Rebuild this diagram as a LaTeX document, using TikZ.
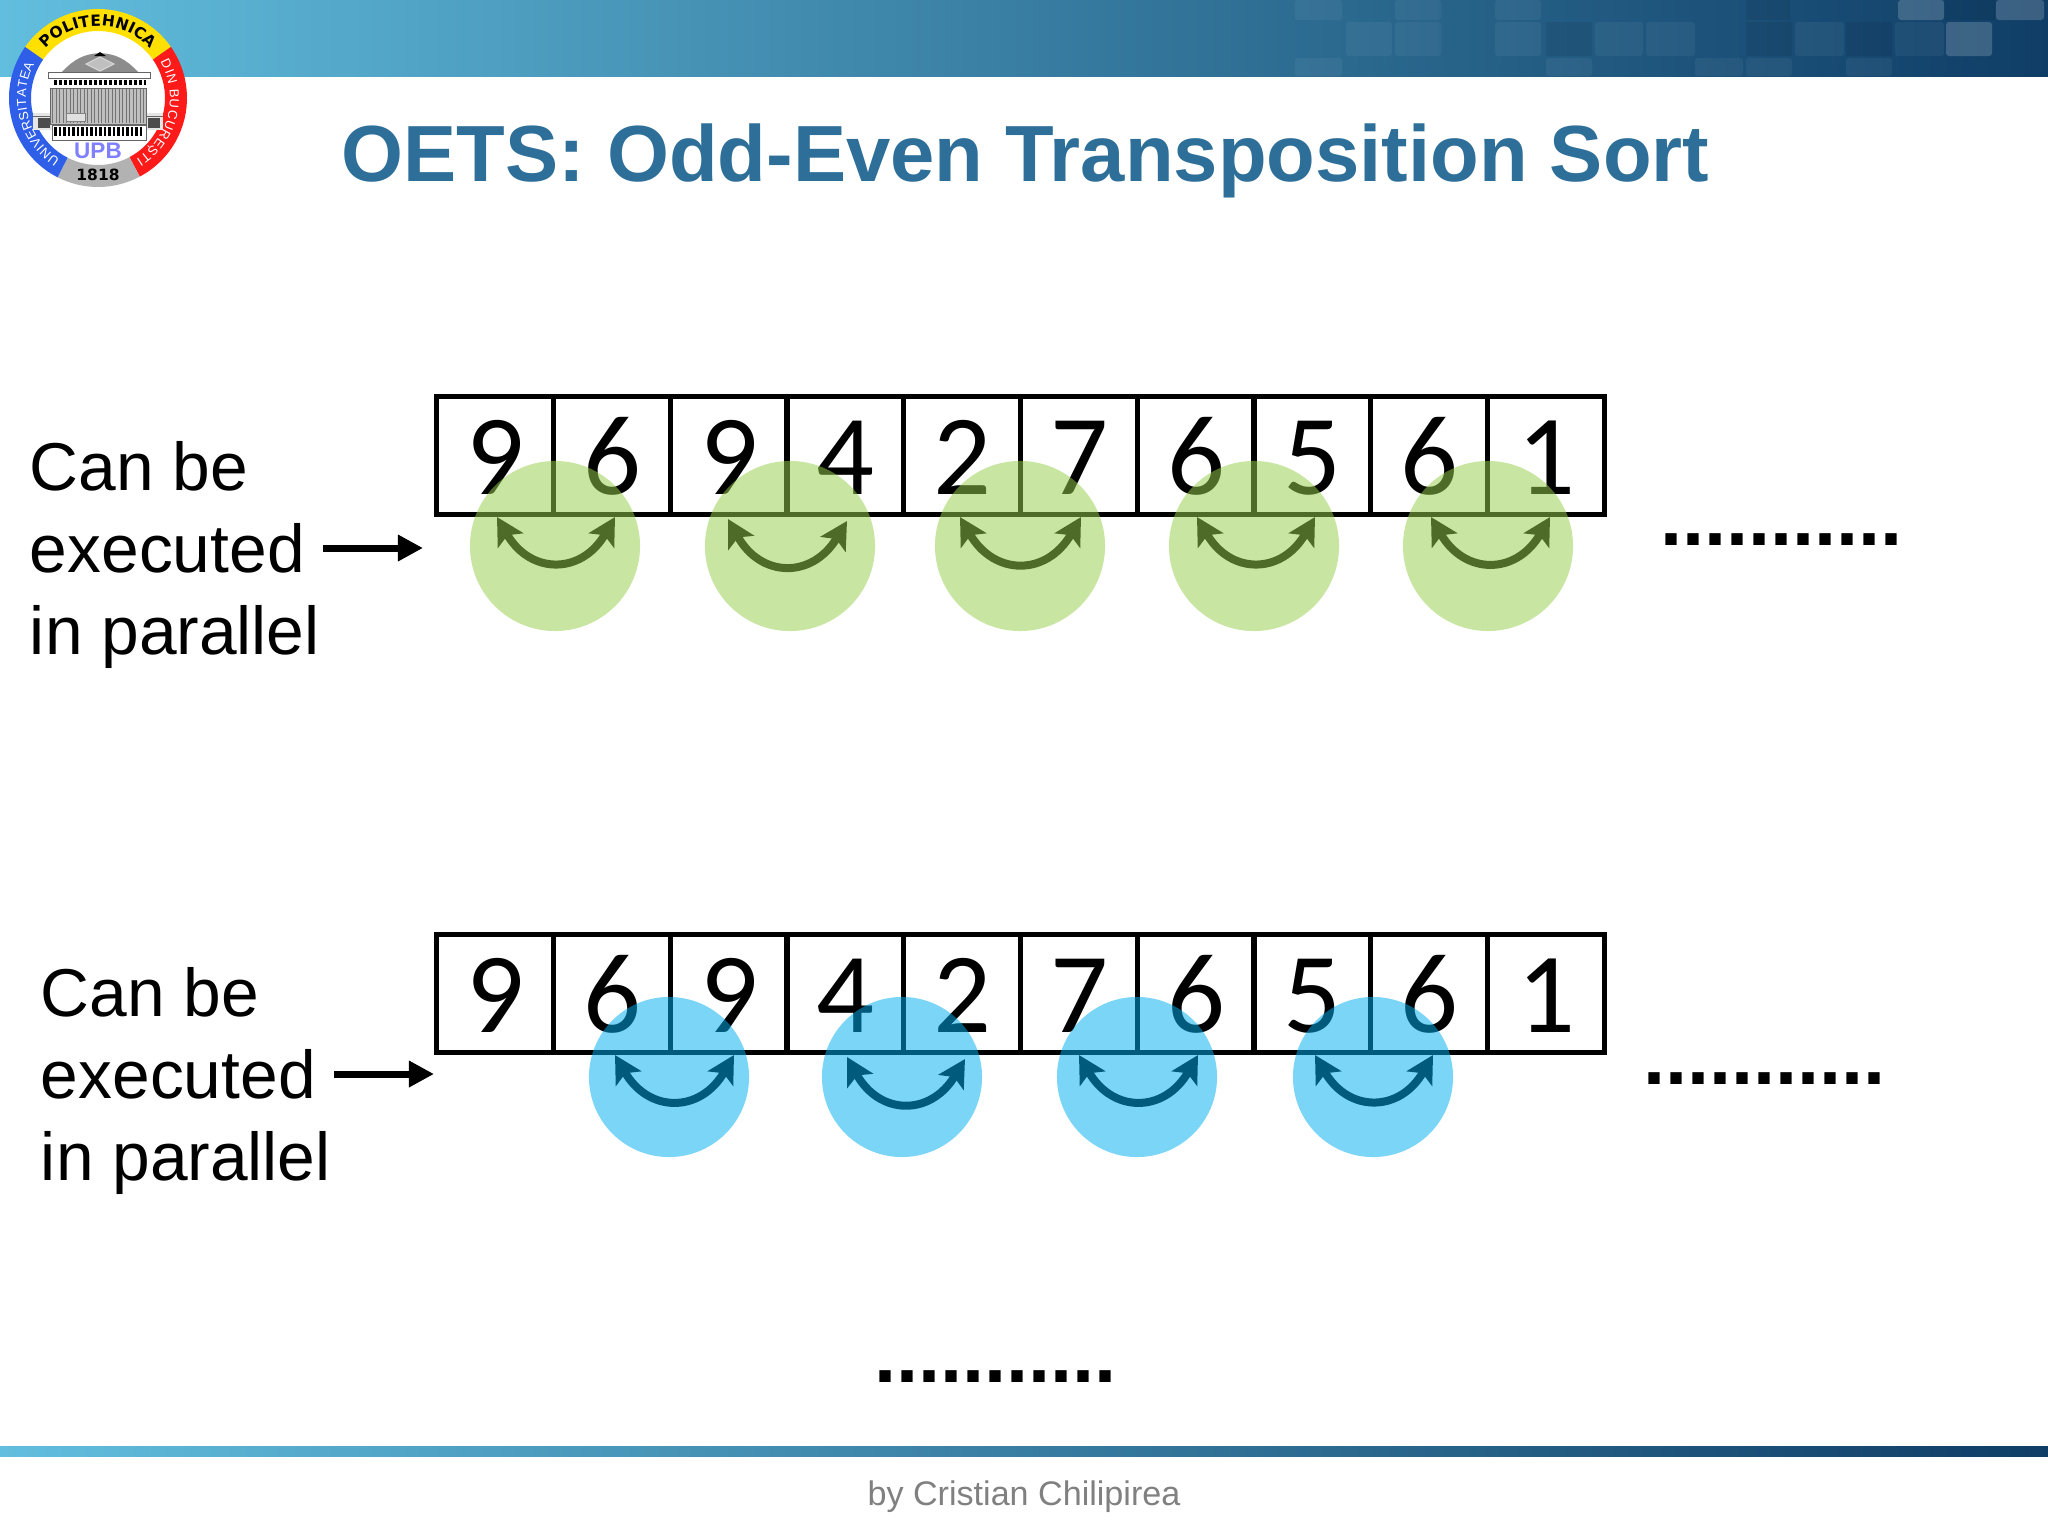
\documentclass[tikz,border=0pt]{standalone}
\usepackage{xcolor}
\usepackage{fontspec}
\setmainfont{Liberation Sans}
\newfontfamily\digitfont{Carlito}
\newfontfamily\logofont{DejaVu Sans}
\usetikzlibrary{arrows.meta,decorations.text}

\definecolor{titleblue}{HTML}{2E6F99}
\definecolor{bandleft}{HTML}{62BEDE}
\definecolor{bandmid}{HTML}{357FA8}
\definecolor{bandright}{HTML}{0F3D66}
\definecolor{spotgreen}{HTML}{98CE4D}
\definecolor{spotblue}{HTML}{00AEEF}
\definecolor{ringyellow}{HTML}{FFE000}
\definecolor{ringred}{HTML}{FF1A1A}
\definecolor{ringblue}{HTML}{2F5FE8}

\tikzset{
    cell/.style={draw,line width=0.05cm,minimum size=1.17cm,inner sep=0,outer sep=0,text height=0.78cm,text depth=0cm,font=\digitfont\fontsize{32.5}{36}\selectfont},
    greenspot/.style={circle,fill=spotgreen,fill opacity=0.52,minimum size=1.7cm,inner sep=0,outer sep=0},
    bluespot/.style={circle,fill=spotblue,fill opacity=0.52,minimum size=1.6cm,inner sep=0,outer sep=0},
    swap/.style={line width=0.08cm,{Stealth[length=0.27cm,width=0.29cm,inset=0.06cm]}-{Stealth[length=0.27cm,width=0.29cm,inset=0.06cm]}},
    pointer/.style={line width=0.07cm,-{Triangle[length=0.25cm,width=0.25cm]}},
    sidelabel/.style={anchor=west,align=left,inner sep=0,outer sep=0,font=\fontsize{19.25}{23.4}\selectfont},
    dotrow/.style={anchor=base west,inner sep=0,outer sep=0,font=\bfseries\fontsize{22.6}{26}\selectfont},
    tilelight/.style={fill=white,fill opacity=0.05,rounded corners=0.03cm},
    tilebright/.style={fill=white,fill opacity=0.18,rounded corners=0.03cm},
    tiledark/.style={fill=black,fill opacity=0.07},
    ringtext/.style={decorate,decoration={text along path,text align=fit to path,text color=#1}}
}

\begin{document}
\begin{tikzpicture}[x=0.01cm,y=-0.01cm]
    \useasboundingbox (0,0) rectangle (2048,1536);

    % header and footer bands
    \shade[left color=bandleft,middle color=bandmid,right color=bandright] (0,0) rectangle (2048,76);
    \shade[left color=bandleft,middle color=bandmid,right color=bandright] (0,1446) rectangle (2048,1456);
    \fill[tilelight] (1295,0) rectangle (1342,20);
    \fill[tilelight] (1395,0) rectangle (1441,20);
    \fill[tilelight] (1495,0) rectangle (1541,20);
    \fill[tilebright] (1898,0) rectangle (1944,20);
    \fill[tilebright] (1996,0) rectangle (2044,20);
    \fill[tiledark] (1746,0) rectangle (1790,20);
    \fill[tiledark] (1944,0) rectangle (1995,20);
    \fill[tilelight] (1346,22) rectangle (1392,56);
    \fill[tilelight] (1395,22) rectangle (1441,56);
    \fill[tilelight] (1495,22) rectangle (1541,56);
    \fill[tilelight] (1595,22) rectangle (1643,56);
    \fill[tilelight] (1646,22) rectangle (1695,56);
    \fill[tilelight] (1795,22) rectangle (1844,56);
    \fill[tilelight] (1895,22) rectangle (1944,56);
    \fill[tilebright] (1946,22) rectangle (1992,56);
    \fill[tiledark] (1746,22) rectangle (1792,56);
    \fill[tiledark] (1846,22) rectangle (1892,56);
    \fill[tiledark] (1546,22) rectangle (1592,56);
    \fill[tilelight] (1295,58) rectangle (1342,76);
    \fill[tilelight] (1546,58) rectangle (1592,76);
    \fill[tilelight] (1695,58) rectangle (1743,76);
    \fill[tilelight] (1746,58) rectangle (1792,76);
    \fill[tilelight] (1846,58) rectangle (1892,76);

    % logo
    \begin{scope}[shift={(98,98)},x=0.01cm,y=0.01cm]
        \fill[white] (0,0) circle (70);
        \fill[ringyellow] (145:89) arc[start angle=145,end angle=35,radius=89] -- (35:67) arc[start angle=35,end angle=145,radius=67] -- cycle;
        \fill[ringred] (35:89) arc[start angle=35,end angle=-62,radius=89] -- (-62:67) arc[start angle=-62,end angle=35,radius=67] -- cycle;
        \fill[black!30] (-62:89) arc[start angle=-62,end angle=-117,radius=89] -- (-117:67) arc[start angle=-117,end angle=-62,radius=67] -- cycle;
        \fill[ringblue] (-117:89) arc[start angle=-117,end angle=-215,radius=89] -- (-215:67) arc[start angle=-215,end angle=-117,radius=67] -- cycle;
        \path[ringtext=black,decoration={text={|\logofont\bfseries\fontsize{4.4}{5}\selectfont|POLITEHNICA}}] (137:72) arc[start angle=137,end angle=43,radius=72];
        \path[ringtext=white,decoration={text={|\fontsize{3.7}{5}\selectfont|DIN BUCUREȘTI}}] (30:72) arc[start angle=30,end angle=-58,radius=72];
        \path[ringtext=white,decoration={text={|\fontsize{3.7}{5}\selectfont|UNIVERSITATEA}}] (-122:72) arc[start angle=-122,end angle=-208,radius=72];
    \end{scope}
    \node[inner sep=0,font=\logofont\bfseries\fontsize{4.4}{5}\selectfont] (year) at (98,175) {1818};
    \node[inner sep=0,text=blue!50,font=\bfseries\fontsize{6.4}{7}\selectfont] (upb) at (98,151) {UPB};
    \fill[black!45] (62,72) .. controls (75,58) and (85,54) .. (100,53) .. controls (115,54) and (125,58) .. (138,72) -- cycle;
    \fill[black] (94,56) -- (100,52) -- (106,56) -- cycle;
    \draw[black!15,line width=0.01cm,fill=black!25] (86,64) -- (100,57) -- (114,64) -- (100,71) -- cycle;
    \fill[black!10] (33,113) rectangle (163,130);
    \draw[black!60,line width=0.01cm] (33,116) -- (163,116);
    \fill[black!70] (38,118) rectangle (50,128);
    \fill[black!70] (148,118) rectangle (160,128);
    \draw[black!60,fill=white,line width=0.01cm] (48,72) rectangle (150,78);
    \draw[black,line width=0.05cm,dash pattern=on 0.03cm off 0.02cm] (54,82) -- (146,82);
    \draw[black!60,fill=black!25,line width=0.01cm] (50,88) rectangle (146,124);
    \draw[black!55,line width=0.33cm,dash pattern=on 0.01cm off 0.025cm] (52,106) -- (146,106);
    \draw[black!50,fill=black!12,line width=0.01cm] (66,113) rectangle (85,121);
    \draw[black!60,fill=white,line width=0.01cm] (52,125) rectangle (146,140);
    \draw[black,line width=0.09cm,dash pattern=on 0.025cm off 0.02cm] (54,131) -- (144,131);

    % title and footer
    \node[anchor=base west,inner sep=0,text=titleblue,font=\bfseries\fontsize{22.65}{26}\selectfont] (title) at (341,181) {OETS: Odd-Even Transposition Sort};
    \node[inner sep=0,text=black!50,font=\fontsize{9.7}{12}\selectfont] (credit) at (1024,1497) {by Cristian Chilipirea};

    % first row
    \node[cell] (a1) at (495,455.5) {9};
    \node[cell] (a2) at (612,455.5) {6};
    \node[cell] (a3) at (729,455.5) {9};
    \node[cell] (a4) at (845,455.5) {4};
    \node[cell] (a5) at (962,455.5) {2};
    \node[cell] (a6) at (1079,455.5) {7};
    \node[cell] (a7) at (1196,455.5) {6};
    \node[cell] (a8) at (1312,455.5) {5};
    \node[cell] (a9) at (1429,455.5) {6};
    \node[cell] (a10) at (1546,455.5) {1};

    % second row
    \node[cell] (b1) at (495,993.5) {9};
    \node[cell] (b2) at (612,993.5) {6};
    \node[cell] (b3) at (729,993.5) {9};
    \node[cell] (b4) at (845,993.5) {4};
    \node[cell] (b5) at (962,993.5) {2};
    \node[cell] (b6) at (1079,993.5) {7};
    \node[cell] (b7) at (1196,993.5) {6};
    \node[cell] (b8) at (1312,993.5) {5};
    \node[cell] (b9) at (1429,993.5) {6};
    \node[cell] (b10) at (1546,993.5) {1};

    % arrow ends, first row
    \coordinate (g1l) at (497,517);
    \coordinate (g1r) at (615,517);
    \coordinate (g2l) at (728,519);
    \coordinate (g2r) at (847,521);
    \coordinate (g3l) at (960,517);
    \coordinate (g3r) at (1081,517);
    \coordinate (g4l) at (1197,517);
    \coordinate (g4r) at (1315,517);
    \coordinate (g5l) at (1431,517);
    \coordinate (g5r) at (1550,517);
    \draw[swap] (g1l) to[bend right=60,looseness=1.45] (g1r);
    \draw[swap] (g2l) to[bend right=60,looseness=1.45] (g2r);
    \draw[swap] (g3l) to[bend right=60,looseness=1.45] (g3r);
    \draw[swap] (g4l) to[bend right=60,looseness=1.45] (g4r);
    \draw[swap] (g5l) to[bend right=60,looseness=1.45] (g5r);

    % arrow ends, second row
    \coordinate (s1l) at (615,1055);
    \coordinate (s1r) at (734,1055);
    \coordinate (s2l) at (847,1057);
    \coordinate (s2r) at (965,1059);
    \coordinate (s3l) at (1079,1055);
    \coordinate (s3r) at (1198,1055);
    \coordinate (s4l) at (1315,1055);
    \coordinate (s4r) at (1433,1055);
    \draw[swap] (s1l) to[bend right=60,looseness=1.45] (s1r);
    \draw[swap] (s2l) to[bend right=60,looseness=1.45] (s2r);
    \draw[swap] (s3l) to[bend right=60,looseness=1.45] (s3r);
    \draw[swap] (s4l) to[bend right=60,looseness=1.45] (s4r);

    % spots over cells and arrows
    \node[greenspot] (g1) at (555,546) {};
    \node[greenspot] (g2) at (790,546) {};
    \node[greenspot] (g3) at (1020,546) {};
    \node[greenspot] (g4) at (1254,546) {};
    \node[greenspot] (g5) at (1488,546) {};
    \node[bluespot] (s1) at (669,1077) {};
    \node[bluespot] (s2) at (902,1077) {};
    \node[bluespot] (s3) at (1137,1077) {};
    \node[bluespot] (s4) at (1373,1077) {};

    % side labels
    \node[sidelabel] (lab1) at (30,555) {Can be\\executed\\in parallel};
    \node[sidelabel] (lab2) at (41,1081) {Can be\\executed\\in parallel};
    \coordinate (p1s) at (323,548);
    \coordinate (p1e) at (423,548);
    \coordinate (p2s) at (334,1074);
    \coordinate (p2e) at (434,1074);
    \draw[pointer] (p1s) -- (p1e);
    \draw[pointer] (p2s) -- (p2e);

    % dots
    \node[dotrow] (d1) at (1660,545) {...........};
    \node[dotrow] (d2) at (1643,1084) {...........};
    \node[dotrow] (d3) at (874,1382) {...........};
\end{tikzpicture}
\end{document}
